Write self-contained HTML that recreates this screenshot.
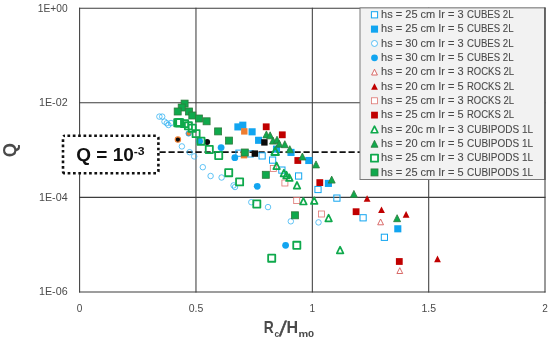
<!DOCTYPE html>
<html lang="en"><head><meta charset="utf-8"><title>Q vs Rc/Hm0</title>
<style>html,body{margin:0;padding:0;background:#fff}body{width:550px;height:341px;overflow:hidden}svg{display:block}text{font-family:"Liberation Sans",sans-serif}</style></head><body>
<svg width="550" height="341" viewBox="0 0 550 341">
<rect width="550" height="341" fill="#fff"/>
<g stroke="#3d3d3d" stroke-width="1.05" fill="none">
<line x1="79.6" y1="7.699999999999999" x2="79.6" y2="292.4"/>
<line x1="195.97" y1="7.699999999999999" x2="195.97" y2="292.4"/>
<line x1="312.33" y1="7.699999999999999" x2="312.33" y2="292.4"/>
<line x1="428.7" y1="7.699999999999999" x2="428.7" y2="292.4"/>
<line x1="545.0" y1="7.699999999999999" x2="545.0" y2="292.4"/>
<line x1="79.1" y1="8.2" x2="545.5" y2="8.2"/>
<line x1="79.1" y1="102.8" x2="545.5" y2="102.8"/>
<line x1="79.1" y1="197.35" x2="545.5" y2="197.35"/>
<line x1="79.1" y1="291.9" x2="545.5" y2="291.9"/>
</g>
<line x1="159.5" y1="152.2" x2="545" y2="152.2" stroke="#111" stroke-width="1.7" stroke-dasharray="6.2 2.8"/>
<g>
<rect x="235.90" y="150.10" width="6.2" height="6.2" fill="none" stroke="#12a5f0" stroke-width="1.0"/>
<rect x="247.10" y="150.80" width="6.2" height="6.2" fill="none" stroke="#12a5f0" stroke-width="1.0"/>
<rect x="259.00" y="152.80" width="6.2" height="6.2" fill="none" stroke="#12a5f0" stroke-width="1.0"/>
<rect x="269.50" y="157.00" width="6.2" height="6.2" fill="none" stroke="#12a5f0" stroke-width="1.0"/>
<rect x="278.80" y="167.00" width="6.2" height="6.2" fill="none" stroke="#12a5f0" stroke-width="1.0"/>
<rect x="295.50" y="172.90" width="6.2" height="6.2" fill="none" stroke="#12a5f0" stroke-width="1.0"/>
<rect x="314.90" y="186.40" width="6.2" height="6.2" fill="none" stroke="#12a5f0" stroke-width="1.0"/>
<rect x="333.80" y="195.00" width="6.2" height="6.2" fill="none" stroke="#12a5f0" stroke-width="1.0"/>
<rect x="360.00" y="214.70" width="6.2" height="6.2" fill="none" stroke="#12a5f0" stroke-width="1.0"/>
<rect x="381.30" y="234.20" width="6.2" height="6.2" fill="none" stroke="#12a5f0" stroke-width="1.0"/>
<rect x="234.35" y="123.35" width="7.1" height="7.1" fill="#12a5f0"/>
<rect x="239.25" y="121.65" width="7.1" height="7.1" fill="#12a5f0"/>
<rect x="248.55" y="128.25" width="7.1" height="7.1" fill="#12a5f0"/>
<rect x="255.05" y="136.75" width="7.1" height="7.1" fill="#12a5f0"/>
<rect x="272.95" y="145.55" width="7.1" height="7.1" fill="#12a5f0"/>
<rect x="287.45" y="148.85" width="7.1" height="7.1" fill="#12a5f0"/>
<rect x="305.25" y="156.95" width="7.1" height="7.1" fill="#12a5f0"/>
<rect x="324.85" y="179.85" width="7.1" height="7.1" fill="#12a5f0"/>
<rect x="394.25" y="225.25" width="7.1" height="7.1" fill="#12a5f0"/>
<circle cx="159.40" cy="116.60" r="2.75" fill="none" stroke="#2fb0f2" stroke-width="0.75"/>
<circle cx="162.20" cy="116.60" r="2.75" fill="none" stroke="#2fb0f2" stroke-width="0.75"/>
<circle cx="164.50" cy="121.60" r="2.75" fill="none" stroke="#2fb0f2" stroke-width="0.75"/>
<circle cx="166.80" cy="123.20" r="2.75" fill="none" stroke="#2fb0f2" stroke-width="0.75"/>
<circle cx="168.40" cy="125.00" r="2.75" fill="none" stroke="#2fb0f2" stroke-width="0.75"/>
<circle cx="171.00" cy="123.00" r="2.75" fill="none" stroke="#2fb0f2" stroke-width="0.75"/>
<circle cx="181.90" cy="146.40" r="2.75" fill="none" stroke="#2fb0f2" stroke-width="0.75"/>
<circle cx="189.60" cy="152.20" r="2.75" fill="none" stroke="#2fb0f2" stroke-width="0.75"/>
<circle cx="194.20" cy="156.40" r="2.75" fill="none" stroke="#2fb0f2" stroke-width="0.75"/>
<circle cx="202.80" cy="167.20" r="2.75" fill="none" stroke="#2fb0f2" stroke-width="0.75"/>
<circle cx="210.60" cy="176.00" r="2.75" fill="none" stroke="#2fb0f2" stroke-width="0.75"/>
<circle cx="221.60" cy="177.50" r="2.75" fill="none" stroke="#2fb0f2" stroke-width="0.75"/>
<circle cx="233.60" cy="185.40" r="2.75" fill="none" stroke="#2fb0f2" stroke-width="0.75"/>
<circle cx="235.00" cy="187.00" r="2.75" fill="none" stroke="#2fb0f2" stroke-width="0.75"/>
<circle cx="251.30" cy="202.20" r="2.75" fill="none" stroke="#2fb0f2" stroke-width="0.75"/>
<circle cx="268.00" cy="207.10" r="2.75" fill="none" stroke="#2fb0f2" stroke-width="0.75"/>
<circle cx="290.80" cy="221.30" r="2.75" fill="none" stroke="#2fb0f2" stroke-width="0.75"/>
<circle cx="318.50" cy="222.40" r="2.75" fill="none" stroke="#2fb0f2" stroke-width="0.75"/>
<circle cx="199.60" cy="141.20" r="3.4" fill="#12a5f0"/>
<circle cx="221.10" cy="147.60" r="3.4" fill="#12a5f0"/>
<circle cx="234.80" cy="157.70" r="3.4" fill="#12a5f0"/>
<circle cx="257.20" cy="186.30" r="3.4" fill="#12a5f0"/>
<circle cx="285.60" cy="245.30" r="3.4" fill="#12a5f0"/>
<circle cx="188.60" cy="133.50" r="2.6" fill="#ee7d31" stroke="#12a5f0" stroke-width="0.9"/>
<rect x="241.10" y="128.20" width="6.4" height="6.4" fill="#ee7d31"/>
<rect x="240.80" y="152.00" width="6.4" height="6.4" fill="#ee7d31"/>
<circle cx="177.90" cy="139.60" r="2.7" fill="#0a0a0a" stroke="#ee7d31" stroke-width="1.1"/>
<circle cx="207.10" cy="142.00" r="3.0" fill="#0a0a0a"/>
<rect x="261.20" y="139.20" width="6.4" height="6.4" fill="#0a0a0a"/>
<rect x="251.60" y="150.40" width="6.4" height="6.4" fill="#0a0a0a"/>
<path d="M380.60 219.00L383.50 224.80L377.70 224.80Z" fill="none" stroke="#d2524f" stroke-width="0.85" stroke-linejoin="round"/>
<path d="M399.80 267.70L402.70 273.50L396.90 273.50Z" fill="none" stroke="#d2524f" stroke-width="0.85" stroke-linejoin="round"/>
<path d="M367.10 195.20L370.50 201.80L363.70 201.80Z" fill="#c00000"/>
<path d="M381.50 206.50L384.90 213.10L378.10 213.10Z" fill="#c00000"/>
<path d="M406.10 211.10L409.50 217.70L402.70 217.70Z" fill="#c00000"/>
<path d="M437.50 255.60L440.90 262.20L434.10 262.20Z" fill="#c00000"/>
<rect x="270.30" y="165.40" width="6.0" height="6.0" fill="none" stroke="#de7470" stroke-width="0.8"/>
<rect x="281.90" y="180.00" width="6.0" height="6.0" fill="none" stroke="#de7470" stroke-width="0.8"/>
<rect x="293.70" y="197.60" width="6.0" height="6.0" fill="none" stroke="#de7470" stroke-width="0.8"/>
<rect x="318.40" y="211.00" width="6.0" height="6.0" fill="none" stroke="#de7470" stroke-width="0.8"/>
<rect x="262.80" y="123.40" width="6.8" height="6.8" fill="#c00000"/>
<rect x="278.90" y="131.40" width="6.8" height="6.8" fill="#c00000"/>
<rect x="294.40" y="157.10" width="6.8" height="6.8" fill="#c00000"/>
<rect x="316.40" y="179.20" width="6.8" height="6.8" fill="#c00000"/>
<rect x="352.70" y="208.30" width="6.8" height="6.8" fill="#c00000"/>
<rect x="395.90" y="258.10" width="6.8" height="6.8" fill="#c00000"/>
<path d="M275.20 147.40L279.00 155.00L271.40 155.00Z" fill="none" stroke="#0fa94c" stroke-width="1.9" stroke-linejoin="round"/>
<path d="M276.60 162.50L279.90 169.10L273.30 169.10Z" fill="none" stroke="#0fa94c" stroke-width="1.7" stroke-linejoin="round"/>
<path d="M283.90 169.70L287.20 176.30L280.60 176.30Z" fill="none" stroke="#0fa94c" stroke-width="1.7" stroke-linejoin="round"/>
<path d="M286.50 171.70L289.80 178.30L283.20 178.30Z" fill="none" stroke="#0fa94c" stroke-width="1.7" stroke-linejoin="round"/>
<path d="M289.40 174.30L292.70 180.90L286.10 180.90Z" fill="none" stroke="#0fa94c" stroke-width="1.7" stroke-linejoin="round"/>
<path d="M297.00 182.00L300.30 188.60L293.70 188.60Z" fill="none" stroke="#0fa94c" stroke-width="1.7" stroke-linejoin="round"/>
<path d="M303.40 197.90L306.70 204.50L300.10 204.50Z" fill="none" stroke="#0fa94c" stroke-width="1.7" stroke-linejoin="round"/>
<path d="M314.20 197.30L317.50 203.90L310.90 203.90Z" fill="none" stroke="#0fa94c" stroke-width="1.7" stroke-linejoin="round"/>
<path d="M328.60 214.70L331.90 221.30L325.30 221.30Z" fill="none" stroke="#0fa94c" stroke-width="1.7" stroke-linejoin="round"/>
<path d="M340.10 246.70L343.40 253.30L336.80 253.30Z" fill="none" stroke="#0fa94c" stroke-width="1.7" stroke-linejoin="round"/>
<path d="M266.40 130.90L269.90 137.90L262.90 137.90Z" fill="#0fa94c" stroke="#2f7a3c" stroke-width="0.8" stroke-linejoin="round"/>
<path d="M270.10 131.80L273.60 138.80L266.60 138.80Z" fill="#0fa94c" stroke="#2f7a3c" stroke-width="0.8" stroke-linejoin="round"/>
<path d="M273.00 137.10L276.50 144.10L269.50 144.10Z" fill="#0fa94c" stroke="#2f7a3c" stroke-width="0.8" stroke-linejoin="round"/>
<path d="M277.00 136.20L280.50 143.20L273.50 143.20Z" fill="#0fa94c" stroke="#2f7a3c" stroke-width="0.8" stroke-linejoin="round"/>
<path d="M279.20 140.20L282.70 147.20L275.70 147.20Z" fill="#0fa94c" stroke="#2f7a3c" stroke-width="0.8" stroke-linejoin="round"/>
<path d="M284.80 140.70L288.30 147.70L281.30 147.70Z" fill="#0fa94c" stroke="#2f7a3c" stroke-width="0.8" stroke-linejoin="round"/>
<path d="M289.80 145.70L293.30 152.70L286.30 152.70Z" fill="#0fa94c" stroke="#2f7a3c" stroke-width="0.8" stroke-linejoin="round"/>
<path d="M302.40 153.00L305.90 160.00L298.90 160.00Z" fill="#0fa94c" stroke="#2f7a3c" stroke-width="0.8" stroke-linejoin="round"/>
<path d="M316.00 160.90L319.50 167.90L312.50 167.90Z" fill="#0fa94c" stroke="#2f7a3c" stroke-width="0.8" stroke-linejoin="round"/>
<path d="M331.70 176.10L335.20 183.10L328.20 183.10Z" fill="#0fa94c" stroke="#2f7a3c" stroke-width="0.8" stroke-linejoin="round"/>
<path d="M353.90 190.40L357.40 197.40L350.40 197.40Z" fill="#0fa94c" stroke="#2f7a3c" stroke-width="0.8" stroke-linejoin="round"/>
<path d="M397.10 214.70L400.60 221.70L393.60 221.70Z" fill="#0fa94c" stroke="#2f7a3c" stroke-width="0.8" stroke-linejoin="round"/>
<rect x="174.20" y="119.15" width="7.1" height="7.1" fill="none" stroke="#0fa94c" stroke-width="1.8" stroke-linejoin="round"/>
<rect x="175.20" y="119.15" width="7.1" height="7.1" fill="none" stroke="#0fa94c" stroke-width="1.8" stroke-linejoin="round"/>
<rect x="176.20" y="119.15" width="7.1" height="7.1" fill="none" stroke="#0fa94c" stroke-width="1.8" stroke-linejoin="round"/>
<rect x="181.05" y="120.05" width="7.1" height="7.1" fill="none" stroke="#0fa94c" stroke-width="1.8" stroke-linejoin="round"/>
<rect x="184.85" y="122.25" width="7.1" height="7.1" fill="none" stroke="#0fa94c" stroke-width="1.8" stroke-linejoin="round"/>
<rect x="188.65" y="124.65" width="7.1" height="7.1" fill="none" stroke="#0fa94c" stroke-width="1.8" stroke-linejoin="round"/>
<rect x="192.55" y="130.05" width="7.1" height="7.1" fill="none" stroke="#0fa94c" stroke-width="1.8" stroke-linejoin="round"/>
<rect x="197.45" y="137.65" width="7.1" height="7.1" fill="none" stroke="#0fa94c" stroke-width="1.8" stroke-linejoin="round"/>
<rect x="205.75" y="145.95" width="7.1" height="7.1" fill="none" stroke="#0fa94c" stroke-width="1.8" stroke-linejoin="round"/>
<rect x="215.15" y="151.95" width="7.1" height="7.1" fill="none" stroke="#0fa94c" stroke-width="1.8" stroke-linejoin="round"/>
<rect x="225.15" y="169.15" width="7.1" height="7.1" fill="none" stroke="#0fa94c" stroke-width="1.8" stroke-linejoin="round"/>
<rect x="236.05" y="178.35" width="7.1" height="7.1" fill="none" stroke="#0fa94c" stroke-width="1.8" stroke-linejoin="round"/>
<rect x="253.25" y="200.45" width="7.1" height="7.1" fill="none" stroke="#0fa94c" stroke-width="1.8" stroke-linejoin="round"/>
<rect x="293.25" y="241.75" width="7.1" height="7.1" fill="none" stroke="#0fa94c" stroke-width="1.8" stroke-linejoin="round"/>
<rect x="268.15" y="254.65" width="7.1" height="7.1" fill="none" stroke="#0fa94c" stroke-width="1.8" stroke-linejoin="round"/>
<rect x="181.10" y="100.10" width="7.0" height="7.0" fill="#0fa94c" stroke="#2f7a3c" stroke-width="0.8"/>
<rect x="178.20" y="104.00" width="7.0" height="7.0" fill="#0fa94c" stroke="#2f7a3c" stroke-width="0.8"/>
<rect x="174.20" y="108.00" width="7.0" height="7.0" fill="#0fa94c" stroke="#2f7a3c" stroke-width="0.8"/>
<rect x="185.50" y="108.00" width="7.0" height="7.0" fill="#0fa94c" stroke="#2f7a3c" stroke-width="0.8"/>
<rect x="188.80" y="112.00" width="7.0" height="7.0" fill="#0fa94c" stroke="#2f7a3c" stroke-width="0.8"/>
<rect x="195.40" y="115.00" width="7.0" height="7.0" fill="#0fa94c" stroke="#2f7a3c" stroke-width="0.8"/>
<rect x="203.10" y="117.80" width="7.0" height="7.0" fill="#0fa94c" stroke="#2f7a3c" stroke-width="0.8"/>
<rect x="214.60" y="127.90" width="7.0" height="7.0" fill="#0fa94c" stroke="#2f7a3c" stroke-width="0.8"/>
<rect x="225.50" y="137.10" width="7.0" height="7.0" fill="#0fa94c" stroke="#2f7a3c" stroke-width="0.8"/>
<rect x="241.30" y="149.00" width="7.0" height="7.0" fill="#0fa94c" stroke="#2f7a3c" stroke-width="0.8"/>
<rect x="262.30" y="171.30" width="7.0" height="7.0" fill="#0fa94c" stroke="#2f7a3c" stroke-width="0.8"/>
<rect x="291.50" y="211.80" width="7.0" height="7.0" fill="#0fa94c" stroke="#2f7a3c" stroke-width="0.8"/>
</g>
<rect x="63" y="135.7" width="95.4" height="37.5" rx="2" ry="2" fill="#fff" stroke="#111" stroke-width="2.6" stroke-dasharray="2.7 2.6545" stroke-dashoffset="2.92"/>
<text x="76.2" y="160.6" font-size="18" font-weight="bold" fill="#111" textLength="57.6" lengthAdjust="spacingAndGlyphs">Q = 10</text>
<text x="133.7" y="154.8" font-size="11.6" font-weight="bold" fill="#111" textLength="10.9" lengthAdjust="spacingAndGlyphs">-3</text>
<rect x="360" y="7.9" width="184.8" height="171.6" fill="#f2f2f2" stroke="#7a7a7a" stroke-width="1"/>
<line x1="544.9" y1="7.6" x2="544.9" y2="180" stroke="#555" stroke-width="1.4"/>
<rect x="371.40" y="11.70" width="6.2" height="6.2" fill="#fff" stroke="#12a5f0" stroke-width="1.0"/>
<text x="381.1" y="18.10" font-size="11.1" fill="#4a4a4a" stroke="#4a4a4a" stroke-width="0.1" textLength="82.6" lengthAdjust="spacingAndGlyphs">hs = 25 cm Ir = 3</text>
<text x="467.0" y="18.10" font-size="11.1" fill="#4a4a4a" stroke="#4a4a4a" stroke-width="0.1" textLength="46.5" lengthAdjust="spacingAndGlyphs">CUBES 2L</text>
<rect x="370.95" y="25.58" width="7.1" height="7.1" fill="#12a5f0"/>
<text x="381.1" y="32.43" font-size="11.1" fill="#4a4a4a" stroke="#4a4a4a" stroke-width="0.1" textLength="82.6" lengthAdjust="spacingAndGlyphs">hs = 25 cm Ir = 5</text>
<text x="467.0" y="32.43" font-size="11.1" fill="#4a4a4a" stroke="#4a4a4a" stroke-width="0.1" textLength="46.5" lengthAdjust="spacingAndGlyphs">CUBES 2L</text>
<circle cx="374.50" cy="43.46" r="3.0" fill="#fff" stroke="#2fb0f2" stroke-width="0.8"/>
<text x="381.1" y="46.76" font-size="11.1" fill="#4a4a4a" stroke="#4a4a4a" stroke-width="0.1" textLength="82.6" lengthAdjust="spacingAndGlyphs">hs = 30 cm Ir = 3</text>
<text x="467.0" y="46.76" font-size="11.1" fill="#4a4a4a" stroke="#4a4a4a" stroke-width="0.1" textLength="46.5" lengthAdjust="spacingAndGlyphs">CUBES 2L</text>
<circle cx="374.50" cy="57.79" r="3.4" fill="#12a5f0"/>
<text x="381.1" y="61.09" font-size="11.1" fill="#4a4a4a" stroke="#4a4a4a" stroke-width="0.1" textLength="82.6" lengthAdjust="spacingAndGlyphs">hs = 30 cm Ir = 5</text>
<text x="467.0" y="61.09" font-size="11.1" fill="#4a4a4a" stroke="#4a4a4a" stroke-width="0.1" textLength="46.5" lengthAdjust="spacingAndGlyphs">CUBES 2L</text>
<path d="M374.50 69.22L377.40 75.02L371.60 75.02Z" fill="#fff" stroke="#d2524f" stroke-width="0.85" stroke-linejoin="round"/>
<text x="381.1" y="75.42" font-size="11.1" fill="#4a4a4a" stroke="#4a4a4a" stroke-width="0.1" textLength="82.6" lengthAdjust="spacingAndGlyphs">hs = 20 cm Ir = 3</text>
<text x="467.0" y="75.42" font-size="11.1" fill="#4a4a4a" stroke="#4a4a4a" stroke-width="0.1" textLength="47.0" lengthAdjust="spacingAndGlyphs">ROCKS 2L</text>
<path d="M374.50 83.15L377.90 89.75L371.10 89.75Z" fill="#c00000"/>
<text x="381.1" y="89.75" font-size="11.1" fill="#4a4a4a" stroke="#4a4a4a" stroke-width="0.1" textLength="82.6" lengthAdjust="spacingAndGlyphs">hs = 20 cm Ir = 5</text>
<text x="467.0" y="89.75" font-size="11.1" fill="#4a4a4a" stroke="#4a4a4a" stroke-width="0.1" textLength="47.0" lengthAdjust="spacingAndGlyphs">ROCKS 2L</text>
<rect x="371.50" y="97.78" width="6.0" height="6.0" fill="#fff" stroke="#de7470" stroke-width="0.8"/>
<text x="381.1" y="104.08" font-size="11.1" fill="#4a4a4a" stroke="#4a4a4a" stroke-width="0.1" textLength="82.6" lengthAdjust="spacingAndGlyphs">hs = 25 cm Ir = 3</text>
<text x="467.0" y="104.08" font-size="11.1" fill="#4a4a4a" stroke="#4a4a4a" stroke-width="0.1" textLength="47.0" lengthAdjust="spacingAndGlyphs">ROCKS 2L</text>
<rect x="371.10" y="111.71" width="6.8" height="6.8" fill="#c00000"/>
<text x="381.1" y="118.41" font-size="11.1" fill="#4a4a4a" stroke="#4a4a4a" stroke-width="0.1" textLength="82.6" lengthAdjust="spacingAndGlyphs">hs = 25 cm Ir = 5</text>
<text x="467.0" y="118.41" font-size="11.1" fill="#4a4a4a" stroke="#4a4a4a" stroke-width="0.1" textLength="47.0" lengthAdjust="spacingAndGlyphs">ROCKS 2L</text>
<path d="M374.50 126.14L377.80 132.74L371.20 132.74Z" fill="#fff" stroke="#0fa94c" stroke-width="1.7" stroke-linejoin="round"/>
<text x="381.1" y="132.74" font-size="11.1" fill="#4a4a4a" stroke="#4a4a4a" stroke-width="0.1" textLength="82.6" lengthAdjust="spacingAndGlyphs">hs = 20c m Ir = 3</text>
<text x="467.0" y="132.74" font-size="11.1" fill="#4a4a4a" stroke="#4a4a4a" stroke-width="0.1" textLength="66.0" lengthAdjust="spacingAndGlyphs">CUBIPODS 1L</text>
<path d="M374.50 140.27L378.00 147.27L371.00 147.27Z" fill="#0fa94c" stroke="#2f7a3c" stroke-width="0.8" stroke-linejoin="round"/>
<text x="381.1" y="147.07" font-size="11.1" fill="#4a4a4a" stroke="#4a4a4a" stroke-width="0.1" textLength="82.6" lengthAdjust="spacingAndGlyphs">hs = 20 cm Ir = 5</text>
<text x="467.0" y="147.07" font-size="11.1" fill="#4a4a4a" stroke="#4a4a4a" stroke-width="0.1" textLength="66.0" lengthAdjust="spacingAndGlyphs">CUBIPODS 1L</text>
<rect x="370.95" y="154.55" width="7.1" height="7.1" fill="#fff" stroke="#0fa94c" stroke-width="1.8" stroke-linejoin="round"/>
<text x="381.1" y="161.40" font-size="11.1" fill="#4a4a4a" stroke="#4a4a4a" stroke-width="0.1" textLength="82.6" lengthAdjust="spacingAndGlyphs">hs = 25 cm Ir = 3</text>
<text x="467.0" y="161.40" font-size="11.1" fill="#4a4a4a" stroke="#4a4a4a" stroke-width="0.1" textLength="66.0" lengthAdjust="spacingAndGlyphs">CUBIPODS 1L</text>
<rect x="371.00" y="168.93" width="7.0" height="7.0" fill="#0fa94c" stroke="#2f7a3c" stroke-width="0.8"/>
<text x="381.1" y="175.73" font-size="11.1" fill="#4a4a4a" stroke="#4a4a4a" stroke-width="0.1" textLength="82.6" lengthAdjust="spacingAndGlyphs">hs = 25 cm Ir = 5</text>
<text x="467.0" y="175.73" font-size="11.1" fill="#4a4a4a" stroke="#4a4a4a" stroke-width="0.1" textLength="66.0" lengthAdjust="spacingAndGlyphs">CUBIPODS 1L</text>
<text x="37.8" y="11.7" font-size="11" fill="#4a4a4a" textLength="29.8" lengthAdjust="spacingAndGlyphs">1E+00</text>
<text x="39.0" y="106.3" font-size="11" fill="#4a4a4a" textLength="28.6" lengthAdjust="spacingAndGlyphs">1E-02</text>
<text x="39.0" y="200.8" font-size="11" fill="#4a4a4a" textLength="28.6" lengthAdjust="spacingAndGlyphs">1E-04</text>
<text x="39.0" y="295.4" font-size="11" fill="#4a4a4a" textLength="28.6" lengthAdjust="spacingAndGlyphs">1E-06</text>
<text x="76.8" y="312.2" font-size="11" fill="#4a4a4a" textLength="5.6" lengthAdjust="spacingAndGlyphs">0</text>
<text x="188.7" y="312.2" font-size="11" fill="#4a4a4a" textLength="14.6" lengthAdjust="spacingAndGlyphs">0.5</text>
<text x="309.5" y="312.2" font-size="11" fill="#4a4a4a" textLength="5.6" lengthAdjust="spacingAndGlyphs">1</text>
<text x="421.4" y="312.2" font-size="11" fill="#4a4a4a" textLength="14.6" lengthAdjust="spacingAndGlyphs">1.5</text>
<text x="542.2" y="312.2" font-size="11" fill="#4a4a4a" textLength="5.6" lengthAdjust="spacingAndGlyphs">2</text>
<text transform="translate(15.6,157.2) rotate(-90)" font-size="18.2" font-weight="bold" fill="#4a4a4a">Q</text>
<text x="263.7" y="333.3" font-size="16.4" font-weight="bold" fill="#4a4a4a" textLength="10" lengthAdjust="spacingAndGlyphs">R</text>
<text x="274.4" y="337" font-size="9.2" font-weight="bold" fill="#4a4a4a" textLength="4.6" lengthAdjust="spacingAndGlyphs">c</text>
<text transform="translate(278.9,336.2) skewX(-7)" font-size="21" fill="#4a4a4a" stroke="#4a4a4a" stroke-width="0.6">/</text>
<text x="286.6" y="333.3" font-size="16.4" font-weight="bold" fill="#4a4a4a" textLength="11.6" lengthAdjust="spacingAndGlyphs">H</text>
<text x="298.4" y="337" font-size="9.2" font-weight="bold" fill="#4a4a4a" textLength="15.8" lengthAdjust="spacingAndGlyphs">m0</text>
</svg></body></html>
